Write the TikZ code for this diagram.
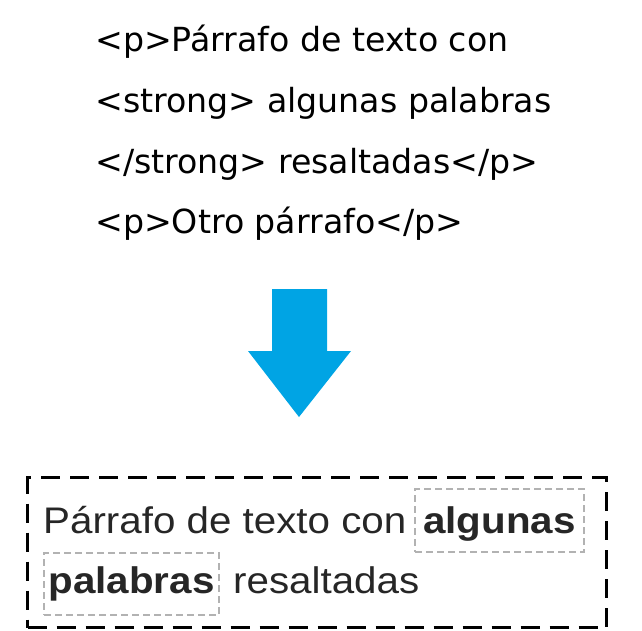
\documentclass[tikz,border=0pt]{standalone}
\usepackage{fontspec}
\setmainfont{DejaVu Sans}
\newfontfamily\boxfont[FakeStretch=1.09]{Liberation Sans}
\definecolor{arrowblue}{RGB}{0,164,228}
\begin{document}
\begin{tikzpicture}
  [x=1pt,y=-1pt,every node/.style={inner sep=0pt,anchor=base west},
   code/.style={font=\fontsize{33.2}{40}\selectfont},
   rendered/.style={font=\boxfont\fontsize{37}{44}\selectfont,text=black!85},
   strongbox/.style={rendered,draw=gray!60,line width=2pt,dash pattern=on 7pt off 4pt,
     font=\boxfont\bfseries\fontsize{37}{44}\selectfont}]
  \useasboundingbox (0,0) rectangle (642,630);

  \node[code] (l1) at (95,51)  {<p>Párrafo de texto con};
  \node[code] (l2) at (95,112) {<strong> algunas palabras};
  \node[code] (l3) at (95,173) {</strong> resaltadas</p>};
  \node[code] (l4) at (95,233) {<p>Otro párrafo</p>};

  \fill[arrowblue] (272,289) -- (327,289) -- (327,351) -- (351,351)
    -- (299,417) -- (248,351) -- (272,351) -- cycle;

  \node[draw,line width=3pt,dash pattern=on 19pt off 10pt,anchor=north west,
    minimum width=579pt,minimum height=150pt] (page) at (26,476) {};

  \node[rendered] (p1) at (43,533) {Párrafo de texto con};
  \node[strongbox,minimum width=169pt,text height=44pt,text depth=19pt] (s1) at (414,533) {algunas};
  \node[strongbox,minimum width=175pt,text height=40pt,text depth=22pt] (s2) at (43,593) {palabras};
  \node[rendered] (p2) at (233,593) {resaltadas};

\end{tikzpicture}
\end{document}
